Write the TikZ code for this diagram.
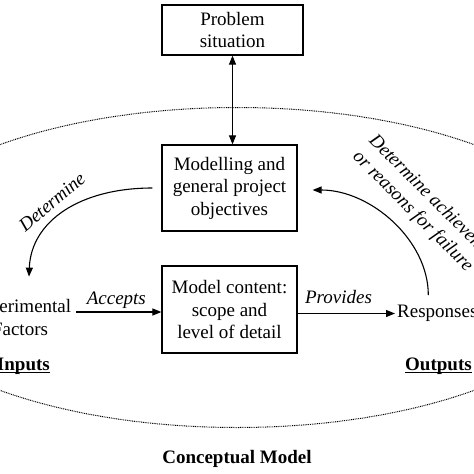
\documentclass[tikz,border=0pt]{standalone}
\usepackage{fontspec}
\setmainfont{Liberation Serif}
\usetikzlibrary{arrows.meta}
\begin{document}
\begin{tikzpicture}[x=1pt,y=-1pt,
  box/.style={draw, line width=1.2pt, inner sep=0pt, align=center, font=\fontsize{19}{22.5}\selectfont},
  lbl/.style={font=\fontsize{19}{23}\selectfont\itshape, inner sep=0pt},
  txt/.style={font=\fontsize{19}{23}\selectfont, inner sep=0pt, align=center},
  hd/.style={font=\fontsize{19}{22.5}\selectfont\bfseries, inner sep=0pt},
  arr/.style={line width=1.1pt, -{Triangle[length=9pt,width=7pt]}},
  ul/.style={line width=1pt},
]
\useasboundingbox[fill=white] (0,0) rectangle (474,474);
% conceptual model boundary
\draw[line width=1pt, dash pattern=on 0.9pt off 0.9pt] (237,267.5) ellipse [x radius=370pt, y radius=160pt];
% boxes
\node[box, minimum width=141pt, minimum height=50pt] (ps) at (232.5,30) {Problem\\situation};
\node[box, minimum width=135pt, minimum height=86pt] (mg) at (229.5,188) {Modelling and\\general project\\objectives};
\node[box, minimum width=135pt, minimum height=87pt] (mc) at (229.5,309.5) {Model content:\\scope and\\level of detail};
% inputs / outputs
\node[txt, anchor=base] (ef) at (20,335) {Experimental\\Factors};
\node[txt, anchor=west] (rs) at (397,313.5) {Responses};
\node[hd, anchor=base east] (in) at (50,370) {Inputs};
\node[hd, anchor=base west] (out) at (405,370) {Outputs};
\draw[ul] ([yshift=-2.5pt]in.base west) -- ([yshift=-2.5pt]in.base east);
\draw[ul] ([yshift=-2.5pt]out.base west) -- ([yshift=-2.5pt]out.base east);
\node[hd, anchor=base] (cm) at (237,463) {Conceptual Model};
% connectors
\coordinate (ain) at ([yshift=-2.5pt]mc.west);
\draw[line width=1.1pt, {Triangle[length=9pt,width=7pt]}-{Triangle[length=9pt,width=7pt]}] (ps.south) -- (ps.south |- mg.north);
\draw[arr] ([xshift=5pt]ef.east |- ain) -- node[lbl, pos=0.47, anchor=base, yshift=8pt] (acc) {Accepts} (ain);
\draw[arr] (mc.east |- rs.west) -- node[lbl, pos=0.42, anchor=base, yshift=10pt] (prv) {Provides} ([xshift=-2pt]rs.west);
\draw[arr] ([xshift=-9pt]mg.west) .. controls +(-73,0) and +(2,-55) .. ([shift={(9pt,22pt)}]ef.north);
\draw[arr] ([shift={(-9pt,10pt)}]rs.north) .. controls +(0,-55) and +(58,0) .. ([xshift=15pt,yshift=-2pt]mg.east);
% curve labels
\node[lbl, rotate=40] (det) at (52,202) {Determine};
\node[lbl, rotate=-45, align=left] (dach) at (427,210) {Determine achievement\\or reasons for failure};
\end{tikzpicture}
\end{document}
